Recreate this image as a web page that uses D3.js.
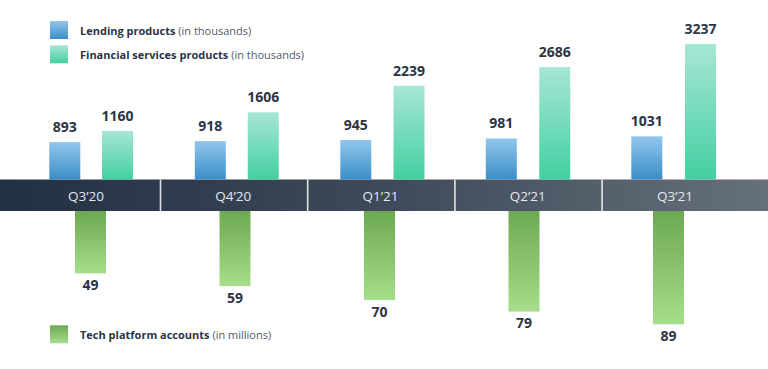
<!DOCTYPE html>
<html><head><meta charset="utf-8">
<script src="https://cdn.jsdelivr.net/npm/d3@7"></script>
<style>body{margin:0;background:#fff}svg{display:block}</style>
</head><body><svg id="c" width="768" height="369"></svg>
<script>
const quarters = ["Q3’20","Q4’20","Q1’21","Q2’21","Q3’21"];
const lending = [893, 918, 945, 981, 1031];
const financial = [1160, 1606, 2239, 2686, 3237];
const tech = [49, 59, 70, 79, 89];
const legendTop = [["Lending products"," (in thousands)"],["Financial services products"," (in thousands)"]];
const legendBottom = ["Tech platform accounts"," (in millions)"];

const svg = d3.select("#c");
const font = "'Open Sans', sans-serif";
const defs = svg.append("defs");
function grad(id, stops, x2, y2){
  const g = defs.append("linearGradient").attr("id", id).attr("x1",0).attr("y1",0).attr("x2",x2).attr("y2",y2);
  stops.forEach((c,i)=>g.append("stop").attr("offset", i/(stops.length-1)).attr("stop-color", c));
}
grad("gL", ["#93c6ec","#3a8ec8"], 0, 1);
grad("gF", ["#a7e6d5","#43cfa2"], 0, 1);
grad("gT", ["#6da852","#a6de8c"], 0, 1);
grad("gB", ["#213043","#3e4a59","#66707b"], 1, 0);

const bandTop = 179.5, bandBot = 211;
const xBand = d3.scaleBand().domain(quarters).range([13.5, 749.5]).paddingInner(0);
svg.append("rect").attr("x",0).attr("y",bandTop).attr("width",768).attr("height",bandBot-bandTop).attr("fill","url(#gB)");
svg.selectAll(".sep").data(quarters.slice(1)).join("rect")
  .attr("x", d=>xBand(d)-1).attr("y",bandTop).attr("width",1.6).attr("height",bandBot-bandTop).attr("fill","#ffffff").attr("opacity",0.85);
svg.selectAll(".ql").data(quarters).join("text")
  .attr("x", d=>xBand(d)+xBand.bandwidth()/2 - 1).attr("y", 200.5)
  .attr("text-anchor","middle").attr("font-family",font).attr("font-size",13.5)
  .attr("fill","#e6e9ec").text(d=>d);

const bw = 31;
const xL = d3.scalePoint().domain(quarters).range([49.3, 631.3]);
const xF = d3.scalePoint().domain(quarters).range([102, 685]);
const xT = d3.scalePoint().domain(quarters).range([75, 653]);
const yTop = d3.scaleLinear().domain([0, 3237]).range([bandTop, 44]);
const yBot = d3.scaleLinear().domain([0, 89]).range([bandBot, 324.3]);
const valColor = "#2b3445";

function topBars(data, xs, fill){
  svg.append("g").selectAll("rect").data(data).join("rect")
    .attr("x",(d,i)=>xs(quarters[i])).attr("y",d=>yTop(d)).attr("width",bw)
    .attr("height",d=>bandTop-yTop(d)).attr("fill",fill);
  svg.append("g").selectAll("text").data(data).join("text")
    .attr("x",(d,i)=>xs(quarters[i])+bw/2).attr("y",d=>yTop(d)-10)
    .attr("text-anchor","middle").attr("font-family",font).attr("font-weight",700)
    .attr("font-size",14).attr("fill",valColor).text(d=>d);
}
topBars(lending, xL, "url(#gL)");
topBars(financial, xF, "url(#gF)");

svg.append("g").selectAll("rect").data(tech).join("rect")
  .attr("x",(d,i)=>xT(quarters[i])).attr("y",bandBot).attr("width",bw)
  .attr("height",d=>yBot(d)-bandBot).attr("fill","url(#gT)");
svg.append("g").selectAll("text").data(tech).join("text")
  .attr("x",(d,i)=>xT(quarters[i])+bw/2).attr("y",d=>yBot(d)+16.8)
  .attr("text-anchor","middle").attr("font-family",font).attr("font-weight",700)
  .attr("font-size",14).attr("fill",valColor).text(d=>d);

function legend(y, fill, parts){
  svg.append("rect").attr("x",50).attr("y",y).attr("width",18).attr("height",18).attr("fill",fill);
  const t = svg.append("text").attr("x",80).attr("y",y+14).attr("font-family",font).attr("font-size",11).attr("fill",valColor);
  t.append("tspan").attr("font-weight",700).text(parts[0]);
  t.append("tspan").attr("fill","#4f5866").text(parts[1]);
}
legend(21, "url(#gL)", legendTop[0]);
legend(45.3, "url(#gF)", legendTop[1]);
legend(325.3, "url(#gT)", legendBottom);
</script></body></html>
